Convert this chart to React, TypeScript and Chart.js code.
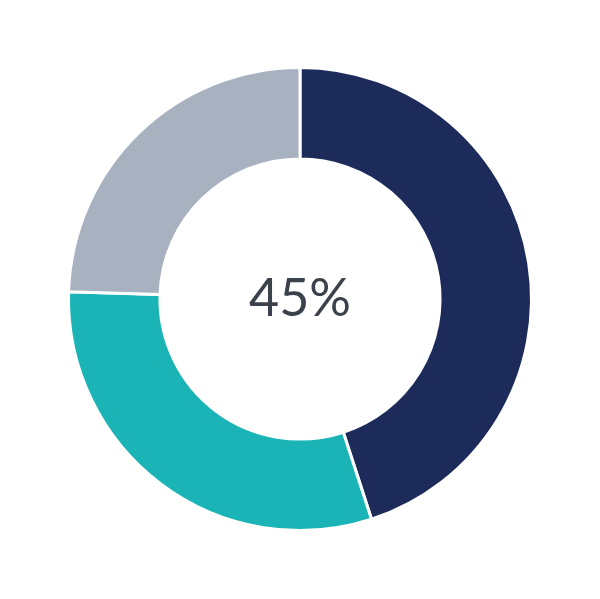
import { useEffect, useRef } from 'react'
import { Chart, registerables, Plugin } from 'chart.js'

Chart.register(...registerables)

const labels = ['Segment A', 'Segment B', 'Segment C']
const values = [45, 30.5, 24.5]
const colors = ['#1c2b5a', '#1bb4b6', '#a7b1c0']
const centerLabel = '45%'

const centerText: Plugin<'doughnut'> = {
  id: 'centerText',
  afterDraw(chart) {
    const { ctx, chartArea } = chart
    const x = (chartArea.left + chartArea.right) / 2
    const y = (chartArea.top + chartArea.bottom) / 2
    ctx.save()
    ctx.font = '400 52px Lato'
    ctx.fillStyle = '#3b424b'
    ctx.textAlign = 'center'
    ctx.textBaseline = 'middle'
    ctx.fillText(centerLabel, x, y)
    ctx.restore()
  }
}

const App = () => {
  const canvasRef = useRef<HTMLCanvasElement>(null)
  const chartRef = useRef<Chart<'doughnut'> | null>(null)

  useEffect(() => {
    if (!canvasRef.current) return
    if (chartRef.current) chartRef.current.destroy()

    chartRef.current = new Chart(canvasRef.current, {
      type: 'doughnut',
      data: {
        labels,
        datasets: [{
          data: values,
          backgroundColor: colors,
          borderColor: '#ffffff',
          borderWidth: 3,
          hoverOffset: 0
        }]
      },
      options: {
        animation: false,
        responsive: true,
        maintainAspectRatio: false,
        cutout: '60.5%',
        layout: { padding: 58 },
        plugins: {
          legend: { display: false },
          tooltip: { enabled: false }
        }
      },
      plugins: [centerText]
    })

    return () => {
      if (chartRef.current) {
        chartRef.current.destroy()
        chartRef.current = null
      }
    }
  }, [])

  return (
    <div style={{ width: 584, height: 582 }}>
      <canvas ref={canvasRef}></canvas>
    </div>
  )
}

export default App
